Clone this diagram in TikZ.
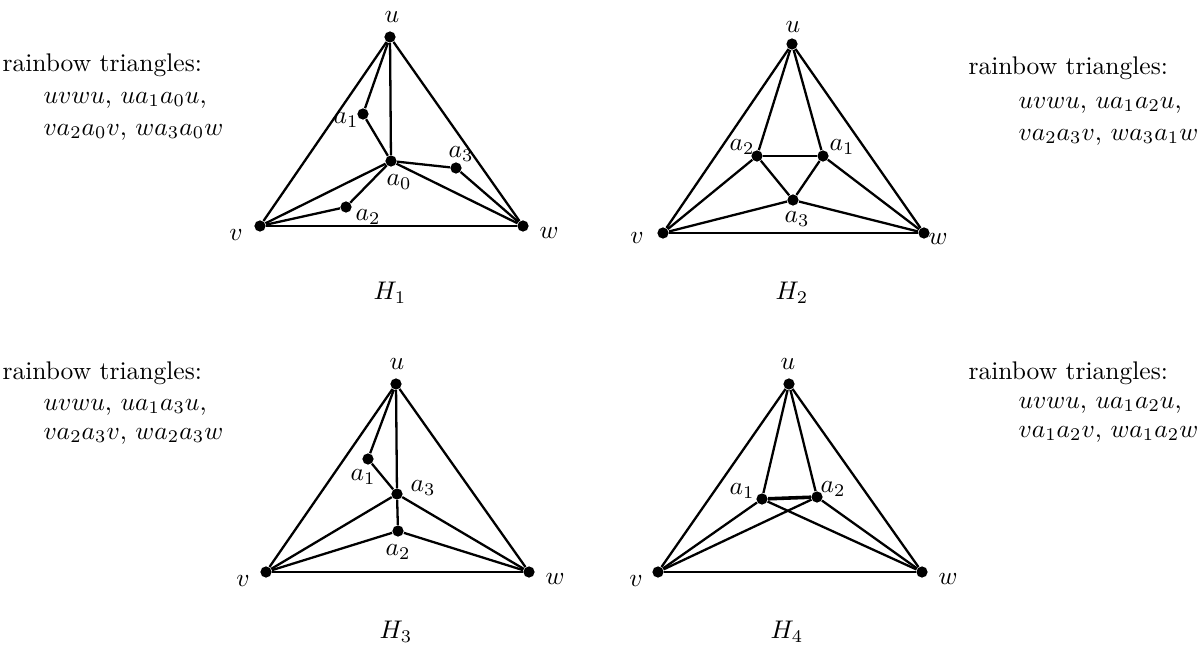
\documentclass[tikz,border=0pt]{standalone}
\usepackage{amsmath,amssymb}
\usepackage{tikz}
\usetikzlibrary{positioning}

\begin{document}
\begin{tikzpicture}[x=1.378cm, y=-1.378cm, dot/.style={circle, fill=black, inner sep=0pt, minimum size=4.4pt}, edge/.style={line width=0.9pt}, tri/.style={anchor=base west, inner sep=0pt}]
\useasboundingbox (0,0) rectangle (12,6.5);
% H_1
\node[dot] (H1u) at (3.90,0.37) {};
\node[dot] (H1v) at (2.60,2.26) {};
\node[dot] (H1w) at (5.23,2.26) {};
\node[dot] (H1a1) at (3.63,1.14) {};
\node[dot] (H1a0) at (3.91,1.61) {};
\node[dot] (H1a3) at (4.56,1.68) {};
\node[dot] (H1a2) at (3.46,2.07) {};
\foreach \a/\b in {H1u/H1v, H1u/H1w, H1v/H1w, H1u/H1a1, H1a1/H1a0, H1u/H1a0, H1a0/H1a3, H1a3/H1w, H1a0/H1w, H1a0/H1v, H1a0/H1a2, H1a2/H1v} \draw[edge] (\a) -- (\b);
\node (H1ul) at (3.92,0.17) {$u$};
\node (H1vl) at (2.36,2.35) {$v$};
\node (H1wl) at (5.49,2.33) {$w$};
\node (H1a1l) at (3.46,1.20) {$a_1$};
\node (H1a0l) at (3.99,1.82) {$a_0$};
\node (H1a3l) at (4.61,1.54) {$a_3$};
\node (H1a2l) at (3.68,2.17) {$a_2$};
\node (H1cap) at (3.90,2.93) {$H_1$};
\node[tri] (H1txt) at (0.02,0.71) {rainbow triangles:};
\node[tri] (H1tri1) at (0.43,1.03) {$uvwu$, $ua_1a_0u$,};
\node[tri] (H1tri2) at (0.43,1.35) {$va_2a_0v$, $wa_3a_0w$};
% H_2
\node[dot] (H2u) at (7.92,0.44) {};
\node[dot] (H2v) at (6.63,2.33) {};
\node[dot] (H2w) at (9.24,2.33) {};
\node[dot] (H2a2) at (7.57,1.56) {};
\node[dot] (H2a1) at (8.23,1.56) {};
\node[dot] (H2a3) at (7.93,2.00) {};
\foreach \a/\b in {H2u/H2v, H2u/H2w, H2v/H2w, H2u/H2a2, H2u/H2a1, H2a2/H2a1, H2a2/H2a3, H2a1/H2a3, H2a2/H2v, H2a1/H2w, H2a3/H2v, H2a3/H2w} \draw[edge] (\a) -- (\b);
\node (H2ul) at (7.93,0.27) {$u$};
\node (H2vl) at (6.37,2.38) {$v$};
\node (H2wl) at (9.38,2.39) {$w$};
\node (H2a2l) at (7.42,1.47) {$a_2$};
\node (H2a1l) at (8.42,1.47) {$a_1$};
\node (H2a3l) at (7.97,2.19) {$a_3$};
\node (H2cap) at (7.92,2.93) {$H_2$};
\node[tri] (H2txt) at (9.68,0.74) {rainbow triangles:};
\node[tri] (H2tri1) at (10.18,1.08) {$uvwu$, $ua_1a_2u$,};
\node[tri] (H2tri2) at (10.18,1.40) {$va_2a_3v$, $wa_3a_1w$};
% H_3
\node[dot] (H3u) at (3.96,3.84) {};
\node[dot] (H3v) at (2.66,5.72) {};
\node[dot] (H3w) at (5.29,5.72) {};
\node[dot] (H3a1) at (3.68,4.59) {};
\node[dot] (H3a3) at (3.97,4.94) {};
\node[dot] (H3a2) at (3.98,5.31) {};
\foreach \a/\b in {H3u/H3v, H3u/H3w, H3v/H3w, H3u/H3a1, H3a1/H3a3, H3u/H3a3, H3a3/H3a2, H3a3/H3v, H3a3/H3w, H3a2/H3v, H3a2/H3w} \draw[edge] (\a) -- (\b);
\node (H3ul) at (3.97,3.64) {$u$};
\node (H3vl) at (2.43,5.81) {$v$};
\node (H3wl) at (5.55,5.79) {$w$};
\node (H3a1l) at (3.63,4.77) {$a_1$};
\node (H3a3l) at (4.23,4.88) {$a_3$};
\node (H3a2l) at (3.98,5.52) {$a_2$};
\node (H3cap) at (3.96,6.32) {$H_3$};
\node[tri] (H3txt) at (0.02,3.79) {rainbow triangles:};
\node[tri] (H3tri1) at (0.43,4.10) {$uvwu$, $ua_1a_3u$,};
\node[tri] (H3tri2) at (0.43,4.39) {$va_2a_3v$, $wa_2a_3w$};
% H_4
\node[dot] (H4u) at (7.89,3.84) {};
\node[dot] (H4v) at (6.58,5.72) {};
\node[dot] (H4w) at (9.22,5.72) {};
\node[dot] (H4a1) at (7.62,4.99) {};
\node[dot] (H4a2) at (8.17,4.97) {};
\foreach \a/\b in {H4u/H4v, H4u/H4w, H4v/H4w, H4u/H4a1, H4u/H4a2, H4a1/H4v, H4a1/H4w, H4a2/H4v, H4a2/H4w} \draw[edge] (\a) -- (\b);
\draw[line width=1.4pt] (H4a1) -- (H4a2);
\node (H4ul) at (7.88,3.64) {$u$};
\node (H4vl) at (6.36,5.81) {$v$};
\node (H4wl) at (9.48,5.79) {$w$};
\node (H4a1l) at (7.42,4.91) {$a_1$};
\node (H4a2l) at (8.33,4.89) {$a_2$};
\node (H4cap) at (7.87,6.32) {$H_4$};
\node[tri] (H4txt) at (9.68,3.79) {rainbow triangles:};
\node[tri] (H4tri1) at (10.18,4.08) {$uvwu$, $ua_1a_2u$,};
\node[tri] (H4tri2) at (10.18,4.37) {$va_1a_2v$, $wa_1a_2w$};
\end{tikzpicture}
\end{document}
